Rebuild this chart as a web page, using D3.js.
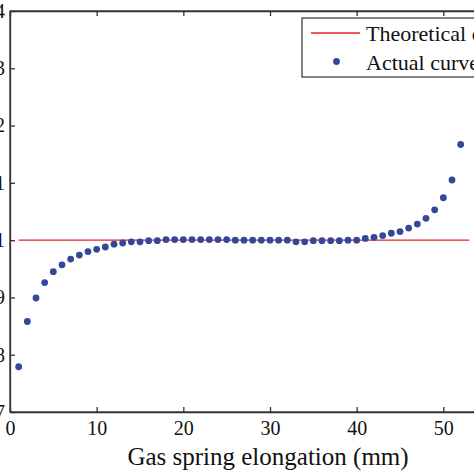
<!DOCTYPE html>
<html>
<head>
<meta charset="utf-8">
<script src="https://cdn.jsdelivr.net/npm/d3@7"></script>
<style>
  body { margin: 0; background: #fff; }
  svg { display: block; overflow: hidden; }
  .axis path, .axis line { stroke: #333; stroke-width: 1.3; }
  .axis text { font-family: "Liberation Serif", "Times New Roman", serif; font-size: 20px; fill: #111; }
  .label { font-family: "Liberation Serif", "Times New Roman", serif; font-size: 25px; fill: #111; }
  .legend text { font-family: "Liberation Serif", "Times New Roman", serif; font-size: 22px; fill: #111; }
</style>
</head>
<body>
<div id="chart"></div>
<script>
// measured points (elongation in mm, ratio)
const actualX = [1, 2, 3, 4, 5, 6, 7, 8, 9, 10, 11, 12, 13, 14, 15, 16, 17, 18, 19, 20,
  21, 22, 23, 24, 25, 26, 27, 28, 29, 30, 31, 32, 33, 34, 35, 36, 37, 38, 39, 40,
  41, 42, 43, 44, 45, 46, 47, 48, 49, 50, 51, 52];
const actualY = [0.9779, 0.9858, 0.9899, 0.9926, 0.9945, 0.9957, 0.9967, 0.9974, 0.9980, 0.9984,
  0.9988, 0.9993, 0.9995, 0.9997, 0.9997, 0.9999, 0.9999, 1.0001, 1.0001, 1.0001,
  1.0001, 1.0001, 1.0001, 1.0001, 1.0001, 1.0000, 1.0000, 1.0000, 1.0000, 1.0000,
  1.0000, 1.0000, 0.9997, 0.9997, 0.9999, 0.9999, 0.9999, 0.9999, 1.0000, 1.0000,
  1.0003, 1.0005, 1.0008, 1.0012, 1.0015, 1.0021, 1.0028, 1.0038, 1.0053, 1.0074,
  1.0105, 1.0167];

// theoretical curve
const theoryX = [1, 53];
const theoryY = [1, 1];

const xTicks = [0, 10, 20, 30, 40, 50, 60];
const yTicks = [0.97, 0.98, 0.99, 1.00, 1.01, 1.02, 1.03, 1.04];
const yTickLabels = ["0.97", "0.98", "0.99", "1", "1.01", "1.02", "1.03", "1.04"];
const legendLabels = ["Theoretical curve", "Actual curve"];

const W = 474, H = 474;
const margin = { top: 11, left: 10 };
const plotW = 520, plotH = 401;

const svg = d3.select("#chart").append("svg")
  .attr("width", W)
  .attr("height", H);

const g = svg.append("g")
  .attr("transform", `translate(${margin.left},${margin.top})`);

const x = d3.scaleLinear().domain([0, 60]).range([0, plotW]);
const y = d3.scaleLinear().domain([0.97, 1.04]).range([plotH, 0]);

// box (top + right sides)
g.append("rect")
  .attr("width", plotW).attr("height", plotH)
  .attr("fill", "none").attr("stroke", "#333").attr("stroke-width", 1.3);

const xAxis = g.append("g")
  .attr("class", "axis")
  .attr("transform", `translate(0,${plotH})`)
  .call(d3.axisBottom(x).tickValues(xTicks).tickSize(-5).tickSizeOuter(0).tickPadding(9).tickFormat(d3.format("d")));
xAxis.selectAll("text").attr("dy", "0.72em");

const yAxis = g.append("g")
  .attr("class", "axis")
  .call(d3.axisLeft(y).tickValues(yTicks).tickSize(-5).tickSizeOuter(0).tickPadding(5)
    .tickFormat((d, i) => yTickLabels[i]));

// top mirrored ticks
g.append("g")
  .attr("class", "axis")
  .call(d3.axisTop(x).tickValues(xTicks).tickSize(-5).tickSizeOuter(0).tickFormat(""));
g.append("g")
  .attr("class", "axis")
  .attr("transform", `translate(${plotW},0)`)
  .call(d3.axisRight(y).tickValues(yTicks).tickSize(-5).tickSizeOuter(0).tickFormat(""));

// theoretical line
const line = d3.line().x((d, i) => x(theoryX[i])).y(d => y(d));
g.append("path")
  .datum(theoryY)
  .attr("d", line)
  .attr("fill", "none")
  .attr("stroke", "#e8262b")
  .attr("stroke-width", 1.3);

// actual points
g.append("g").selectAll("circle")
  .data(actualY)
  .join("circle")
  .attr("cx", (d, i) => x(actualX[i]))
  .attr("cy", d => y(d))
  .attr("r", 3.4)
  .attr("fill", "#34489a");

// x label
svg.append("text")
  .attr("class", "label")
  .attr("x", 268)
  .attr("y", 465)
  .attr("text-anchor", "middle")
  .text("Gas spring elongation (mm)");

// legend
const legend = svg.append("g").attr("class", "legend");
legend.append("rect")
  .attr("x", 302).attr("y", 18)
  .attr("width", 222).attr("height", 59)
  .attr("fill", "#fff").attr("stroke", "#333").attr("stroke-width", 1.2);
legend.append("line")
  .attr("x1", 311).attr("x2", 360).attr("y1", 33).attr("y2", 33)
  .attr("stroke", "#e8262b").attr("stroke-width", 1.3);
legend.append("circle")
  .attr("cx", 336.5).attr("cy", 61.5).attr("r", 3.4)
  .attr("fill", "#34489a");
legend.selectAll("text.item")
  .data(legendLabels)
  .join("text")
  .attr("class", "item")
  .attr("x", 366)
  .attr("y", (d, i) => 41 + i * 28.5)
  .text(d => d);
</script>
</body>
</html>
